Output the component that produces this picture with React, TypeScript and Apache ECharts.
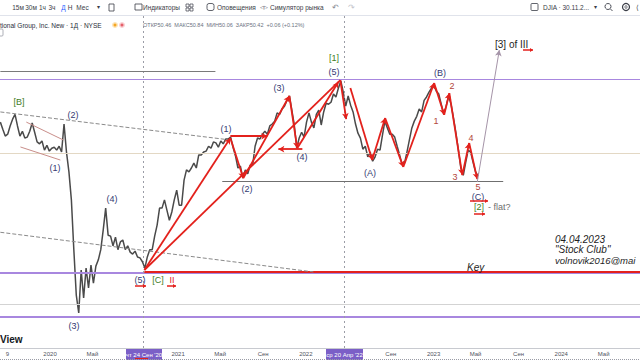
import React, { useEffect, useRef } from "react";
import * as echarts from "echarts";

// ---------- data ----------
const DAY = 86400000;
const X_MIN = Date.UTC(2019, 7, 11);
const X_MAX = Date.UTC(2024, 7, 13);
const FIRST_WEEK = Date.UTC(2019, 7, 12);

// weekly closes (AIG)
const weeklyClose = [
  56.3, 54.8, 53.4, 53.8, 55.5, 56.9, 57.9, 55.5, 53.4, 54.4,
  53.0, 53.2, 54.4, 56.1, 54.2, 52.2, 51.8, 52.4, 50.5, 51.5,
  50.3, 50.9, 51.1, 50.5, 51.3, 50.1, 55.9, 50.1, 46.0, 40.2,
  29.9, 20.5, 16.8, 25.7, 19.9, 26.1, 22.0, 26.7, 23.0, 26.5,
  27.8, 29.9, 34.0, 38.5, 32.9, 32.7, 30.7, 32.5, 29.9, 31.5,
  31.9, 29.9, 30.7, 29.4, 29.0, 29.6, 28.4, 28.2, 27.4, 26.1,
  28.4, 29.9, 29.9, 32.7, 35.0, 38.5, 38.5, 40.2, 38.1, 36.0,
  37.7, 40.2, 42.2, 39.1, 39.1, 44.3, 46.4, 46.0, 46.8, 47.8,
  46.8, 49.5, 49.5, 50.1, 50.3, 51.3, 50.9, 52.2, 52.0, 51.1,
  52.4, 51.8, 52.8, 52.8, 53.2, 51.1, 49.3, 46.8, 47.2, 44.7,
  46.4, 45.6, 47.4, 47.4, 51.3, 53.0, 52.8, 53.8, 54.4, 53.8,
  55.5, 55.9, 56.5, 58.2, 57.9, 59.0, 59.6, 60.8, 61.7, 58.8,
  55.7, 50.9, 53.0, 54.2, 53.2, 56.3, 58.2, 56.3, 55.1, 57.9,
  58.8, 55.7, 58.4, 60.2, 60.0, 60.4, 62.1, 61.5, 63.3, 64.8,
  62.5, 59.6, 61.7, 59.8, 58.4, 55.9, 54.0, 53.0, 50.7, 51.3,
  49.1, 50.1, 48.2, 49.1, 50.7, 50.5, 53.6, 56.5, 55.1, 53.8,
  53.8, 53.2, 51.3, 49.5, 47.6, 47.8, 50.1, 52.6, 55.1, 56.5,
  57.5, 59.0, 58.4, 60.8, 61.5, 62.5, 63.3, 64.1, 62.7, 62.1,
  60.0, 57.9, 59.6, 61.7, 60.0, 57.1, 54.0, 50.5, 46.8, 45.3,
  48.0, 50.5, 50.1, 48.0, 46.0, 45.1,
];

// axis tick labels
const tickDates = [
  "2019-09-01", "2020-01-01", "2020-05-01", "2021-01-01", "2021-05-01", "2021-09-01",
  "2022-01-01", "2022-09-01", "2023-01-01", "2023-05-01", "2023-09-01", "2024-01-01", "2024-05-01",
];
const tickLabels = ["9", "2020", "Май", "2021", "Май", "Сен", "2022", "Сен", "2023", "Май", "Сен", "2024", "Май"];

// drawings: [week index, price]
const impulseWave = [[58.8, 25.7], [93.9, 53.0], [99.2, 44.7], [118.0, 61.7], [121.2, 50.9], [138.0, 64.6]];
const fanLine = [[58.8, 25.7], [138.8, 65.0]];
const arrowFromTop = [[138.8, 65.0], [141.2, 56.9]];
const arrowAt1 = [[93.9, 53.4], [109.0, 53.4]];
const arrowAt4 = [[123.3, 50.7], [113.5, 50.7]];
const correctionWave = [
  [142.9, 63.35], [151.8, 48.45], [157.1, 57.15], [164.5, 47.0], [177.1, 64.4],
  [181.2, 57.8], [183.3, 62.3], [188.6, 45.35], [191.4, 51.97], [194.7, 44.5],
];
const projection = [[194.7, 43.9], [203.7, 71.2]];
const upperDashed = [[0, 58.4], [93.9, 52.6]];
const lowerDashed = [[0, 33.5], [127.8, 25.3]];
const flagTop = [[10.6, 56.3], [25.7, 52.6]];
const flagBottom = [[8.2, 51.15], [24.5, 48.45]];
const topGreyLevel = { price: 66.9, from: 0, to: 87.8 };
const midGreyLevel = { price: 44.1, from: 90.6, to: 205.3 };
const keyLevel = { price: 25.3, from: 58.8 };
const purpleLevels = [65.2, 25.1, 16.0];
const tanLevel = 49.9;
const greyLevel = 18.7;
const markerDates = ["2020-09-24", "2022-04-20"];

// ---------- helpers ----------
const wk = (k: number) => FIRST_WEEK + k * 7 * DAY;
const ts = (s: string) => new Date(s + "T00:00:00Z").getTime();
const FONT = '"Liberation Sans", Arial, sans-serif';

const RED = "#e3211c";
const PURPLE = "#a887df";

function seg(a: number[], b: number[], color: string, width: number, arrow: boolean, type = "solid") {
  return [
    { coord: [wk(a[0]), a[1]], symbol: "none", lineStyle: { color, width, type } },
    { coord: [wk(b[0]), b[1]], symbol: arrow ? "arrow" : "none", symbolSize: arrow ? [5, 6] : 0 },
  ];
}
function path(pts: number[][], color: string, width: number, arrow: boolean) {
  const out: any[] = [];
  for (let i = 0; i < pts.length - 1; i++) out.push(seg(pts[i], pts[i + 1], color, width, arrow));
  return out;
}

function txt(text: string, x: number, y: number, fill: string, size: number, extra: any = {}) {
  return {
    type: "text",
    x,
    y,
    z: 100,
    silent: true,
    style: {
      text,
      fill,
      font: `${extra.style || ""} ${extra.weight || ""} ${size}px ${FONT}`,
      align: extra.align || "center",
      verticalAlign: "middle",
    },
  };
}
function hline(x1: number, x2: number, y: number, stroke: string, w = 1, dash?: number[]) {
  return { type: "line", z: 100, silent: true, shape: { x1, y1: y, x2, y2: y }, style: { stroke, lineWidth: w, lineDash: dash } };
}
function redArrow(x1: number, x2: number, y: number) {
  const dir = x2 > x1 ? 1 : -1;
  return [
    hline(x1, x2, y, RED, 1.5),
    { type: "polygon", z: 100, silent: true, shape: { points: [[x2, y], [x2 - dir * 3, y - 2], [x2 - dir * 3, y + 2]] }, style: { fill: RED } },
  ];
}

export default function App() {
  const ref = useRef<HTMLDivElement>(null);

  useEffect(() => {
    if (!ref.current) return;
    const chart = echarts.init(ref.current, undefined, { renderer: "svg" });

    const NAVY = "#353a73";
    const GREEN = "#3f7d24";
    const WAVE = "#b2453b";
    const HDR = "#3a3d47";

    const markLines: any[] = [
      ...purpleLevels.map((p, i) => ({ yAxis: p, lineStyle: { color: PURPLE, width: i === 0 ? 1 : 2, type: "solid" } })),
      { yAxis: tanLevel, lineStyle: { color: "#e3d8c4", width: 1, type: "solid" } },
      { yAxis: greyLevel, lineStyle: { color: "#d3d3d3", width: 1, type: "solid" } },
      ...markerDates.map((d) => ({ xAxis: ts(d), lineStyle: { color: "#9a9ca6", width: 1, type: [2, 3] } })),
      seg([topGreyLevel.from, topGreyLevel.price], [topGreyLevel.to, topGreyLevel.price], "#7a7a7a", 1, false),
      seg([midGreyLevel.from, midGreyLevel.price], [midGreyLevel.to, midGreyLevel.price], "#6f6f6f", 1, false),
      [
        { coord: [wk(keyLevel.from), keyLevel.price], symbol: "none", lineStyle: { color: RED, width: 2, type: "solid" } },
        { coord: [X_MAX, keyLevel.price], symbol: "none" },
      ],
      seg(upperDashed[0], upperDashed[1], "#8a8a8a", 1, false, "dashed"),
      seg(lowerDashed[0], lowerDashed[1], "#8a8a8a", 1, false, "dashed"),
      seg(flagTop[0], flagTop[1], "#c98e8a", 1, false),
      seg(flagBottom[0], flagBottom[1], "#c98e8a", 1, false),
      ...path(impulseWave, RED, 1.8, true),
      seg(fanLine[0], fanLine[1], RED, 1.8, false),
      seg(arrowFromTop[0], arrowFromTop[1], RED, 1.8, true),
      seg(arrowAt1[0], arrowAt1[1], RED, 1.8, true),
      seg(arrowAt4[0], arrowAt4[1], RED, 1.8, true),
      ...path(correctionWave, RED, 1.8, true),
      seg(projection[0], projection[1], "#a594a8", 1, true),
    ];

    const graphic: any[] = [
      hline(0, 640, 15.5, "#e0e3eb", 1),
      txt("15м", 18, 7, HDR, 6.5),
      txt("30м", 31, 7, HDR, 6.5),
      txt("1ч", 42.5, 7, HDR, 6.5),
      txt("3ч", 52, 7, HDR, 6.5),
      txt("Д", 63.5, 7, "#2962ff", 6.5),
      txt("Н", 70, 7, HDR, 6.5),
      txt("Мес", 82.5, 7, HDR, 6.5),
      txt("▾", 98.5, 7, HDR, 6),
      { type: "rect", z: 100, shape: { x: 109, y: 4, width: 5, height: 7 }, style: { fill: "none", stroke: HDR, lineWidth: 0.8 } },
      { type: "rect", z: 100, shape: { x: 135, y: 4, width: 7, height: 6 }, style: { fill: "none", stroke: HDR, lineWidth: 0.8 } },
      txt("Индикаторы", 143, 7, HDR, 6.5, { align: "left" }),
      { type: "rect", z: 100, shape: { x: 186, y: 4, width: 3, height: 3 }, style: { fill: "none", stroke: HDR, lineWidth: 0.7 } },
      { type: "rect", z: 100, shape: { x: 190, y: 4, width: 3, height: 3 }, style: { fill: "none", stroke: HDR, lineWidth: 0.7 } },
      { type: "rect", z: 100, shape: { x: 186, y: 8, width: 3, height: 3 }, style: { fill: "none", stroke: HDR, lineWidth: 0.7 } },
      { type: "rect", z: 100, shape: { x: 190, y: 8, width: 3, height: 3 }, style: { fill: "none", stroke: HDR, lineWidth: 0.7 } },
      { type: "rect", z: 100, shape: { x: 207, y: 3.5, width: 7, height: 7, r: 2 }, style: { fill: "none", stroke: HDR, lineWidth: 0.8 } },
      txt("Оповещения", 217, 7, HDR, 6.5, { align: "left" }),
      txt("◁▷", 264, 7, HDR, 5),
      txt("Симулятор рынка", 270, 7, HDR, 6.5, { align: "left" }),
      txt("↶", 335, 7, "#8a8d96", 8),
      txt("↷", 351, 7, "#c4c6cc", 8),
      { type: "rect", z: 100, shape: { x: 531, y: 3.5, width: 7, height: 7, r: 1 }, style: { fill: "none", stroke: HDR, lineWidth: 0.8 } },
      txt("DJIA · 30.11.2...", 543, 7, HDR, 6.5, { align: "left" }),
      txt("▾", 595, 7, HDR, 6),
      { type: "circle", z: 100, shape: { cx: 608, cy: 6.5, r: 3 }, style: { fill: "none", stroke: HDR, lineWidth: 0.9 } },
      { type: "line", z: 100, shape: { x1: 610, y1: 8.5, x2: 612.5, y2: 11 }, style: { stroke: HDR, lineWidth: 0.9 } },
      { type: "circle", z: 100, shape: { cx: 626, cy: 7, r: 3.5 }, style: { fill: "none", stroke: HDR, lineWidth: 1.2 } },
      { type: "circle", z: 100, shape: { cx: 626, cy: 7, r: 1.2 }, style: { fill: "none", stroke: HDR, lineWidth: 0.8 } },
      txt("⟨", 637, 7, HDR, 7),
      txt("tional Group, Inc. New · 1Д · NYSE", 0, 25, "#2a2e39", 6.5, { align: "left" }),
      { type: "circle", z: 100, shape: { cx: 115, cy: 25, r: 3 }, style: { fill: "#fde3b5" } },
      { type: "circle", z: 100, shape: { cx: 115, cy: 25, r: 1.5 }, style: { fill: "#f5a623" } },
      { type: "circle", z: 100, shape: { cx: 122, cy: 25, r: 3 }, style: { fill: "#f9d0d3" } },
      { type: "circle", z: 100, shape: { cx: 122, cy: 25, r: 1.5 }, style: { fill: "#e5606a" } },
      txt("ОТКР50.46  МАКС50.84  МИН50.06  ЗАКР50.42  +0.06 (+0.12%)", 143, 25, "#6b7280", 5.5, { align: "left" }),
      { type: "rect", z: 100, shape: { x: -3, y: 29, width: 6, height: 7, r: 1 }, style: { fill: "none", stroke: "#9a9ca6", lineWidth: 0.8 } },
      txt("[B]", 19, 102, GREEN, 9),
      txt("(2)", 73, 115, NAVY, 9),
      txt("(1)", 55, 168, NAVY, 9),
      txt("(4)", 112, 199, NAVY, 9),
      txt("(3)", 74, 326, NAVY, 9),
      txt("(5)", 140, 280, NAVY, 9),
      txt("[C]", 158, 280, GREEN, 9),
      txt("II", 172, 280, RED, 9),
      ...redArrow(135, 146, 286),
      ...redArrow(167, 176, 286),
      txt("(1)", 226, 129, NAVY, 9),
      txt("(2)", 247, 189, NAVY, 9),
      txt("(3)", 279, 88, NAVY, 9),
      txt("(4)", 302, 157, NAVY, 9),
      txt("[1]", 334, 58, GREEN, 9),
      txt("(5)", 334, 72, NAVY, 9),
      txt("(A)", 370, 173, NAVY, 9),
      txt("(B)", 440, 73, NAVY, 9),
      txt("1", 436, 121, WAVE, 9),
      txt("2", 452, 86, WAVE, 9),
      txt("3", 455, 177, WAVE, 9),
      txt("4", 471, 138, WAVE, 9),
      txt("5", 478, 187, WAVE, 9),
      txt("(C)", 478, 197, NAVY, 9),
      ...redArrow(470, 488, 201),
      txt("[2]", 479, 207, GREEN, 9),
      txt("- flat?", 488, 207, "#6e6e6e", 9, { align: "left" }),
      ...redArrow(474, 485, 214),
      txt("[3] of III", 495, 44, "#1f1f1f", 10, { align: "left" }),
      ...redArrow(523, 533, 50),
      txt("Key", 467, 267, "#1f1f1f", 10, { align: "left", style: "italic" }),
      txt("04.04.2023", 555, 239, "#1f1f1f", 10, { align: "left", style: "italic" }),
      txt("\"Stock Club\"", 555, 249.5, "#1f1f1f", 10, { align: "left", style: "italic" }),
      txt("volnovik2016@mai", 555, 260, "#1f1f1f", 9.5, { align: "left", style: "italic" }),
      txt("View", 0, 339, "#131722", 10, { align: "left", weight: "bold" }),
      { type: "rect", z: 100, shape: { x: 126, y: 349, width: 36, height: 11 }, style: { fill: "#7b5fc7" } },
      txt("чт 24 Сен '20", 144, 354.5, "#ffffff", 6),
      hline(135, 148, 358.5, RED, 1),
      { type: "rect", z: 100, shape: { x: 326, y: 349, width: 37, height: 11 }, style: { fill: "#7b5fc7" } },
      txt("ср 20 Апр '22", 344.5, 354.5, "#ffffff", 6),
      hline(0, 640, 359.5, "#9a9ca6", 1, [1, 1]),
    ];

    const tickTs = tickDates.map(ts);

    chart.setOption({
      animation: false,
      backgroundColor: "#ffffff",
      grid: { left: 0, right: 0, top: 16, bottom: 12, containLabel: false },
      xAxis: {
        type: "value",
        min: X_MIN,
        max: X_MAX,
        axisLine: { show: true, lineStyle: { color: "#c8cad0", width: 1 } },
        axisTick: { show: false },
        splitLine: { show: false },
        axisLabel: {
          customValues: tickTs,
          fontSize: 6,
          color: "#50535e",
          margin: 3,
          fontFamily: FONT,
          formatter: (v: number) => {
            let best = 0;
            let bd = Infinity;
            tickTs.forEach((t, i) => {
              const d = Math.abs(t - v);
              if (d < bd) { bd = d; best = i; }
            });
            return tickLabels[best];
          },
        },
      },
      yAxis: {
        type: "value",
        min: 9.56,
        max: 78.25,
        show: false,
        splitLine: { show: false },
      },
      series: [
        {
          type: "line",
          data: weeklyClose.map((v, i) => [wk(i), v]),
          showSymbol: false,
          symbol: "none",
          lineStyle: { color: "#4a4a4a", width: 1.5 },
          z: 2,
          markLine: {
            silent: true,
            symbol: ["none", "none"],
            label: { show: false },
            animation: false,
            data: markLines,
          },
        },
      ],
      graphic,
    });

    return () => chart.dispose();
  }, []);

  return <div ref={ref} style={{ position: "fixed", left: 0, top: 0, width: 640, height: 360 }} />;
}
